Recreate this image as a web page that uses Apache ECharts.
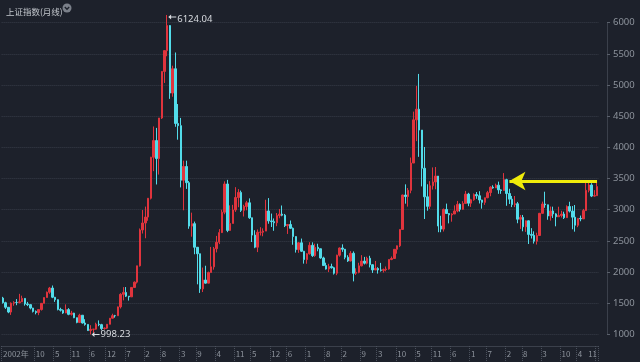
<!DOCTYPE html>
<html>
<head>
<meta charset="utf-8">
<script src="https://cdn.jsdelivr.net/npm/echarts@6/dist/echarts.min.js"></script>
<style>
html,body{margin:0;padding:0;background:#1d212b;}
#main{width:640px;height:362px;}
</style>
</head>
<body>
<div id="main"></div>
<script>
// Monthly candles, 2002-10 .. 2020-11
const startYear = 2002, startMonth = 10;
const closes = [
1507,1434,1357,
1499,1511,1510,1521,1576,1487,1476,1421,1367,1349,1397,1497,
1590,1675,1742,1595,1555,1399,1386,1342,1396,1320,1340,1266,
1191,1306,1181,1159,1060,1080,1083,1162,1155,1092,1099,1161,
1258,1299,1298,1440,1641,1672,1612,1601,1752,1837,2099,2675,
2786,2881,3183,3841,4109,3820,4471,5218,5552,5954,4871,5261,
4383,4348,3472,3693,3433,2736,2775,2397,2293,1729,1871,1821,
1991,2082,2373,2477,2632,2959,3412,2667,2779,2996,3195,3277,
2989,3051,3110,2870,2592,2398,2638,2638,2656,2979,2820,2808,
2790,2905,2928,2911,2743,2762,2701,2568,2359,2468,2333,2199,
2292,2428,2262,2396,2373,2225,2103,2047,2086,2068,1980,2269,
2385,2365,2236,2177,2300,1979,1994,2098,2175,2141,2220,2116,
2033,2056,2033,2026,2039,2048,2201,2217,2364,2420,2683,3235,
3210,3310,3748,4441,4612,4277,3664,3206,3053,3383,3445,3539,
2738,2688,3004,2938,2917,2930,2979,3085,3005,3100,3250,3104,
3159,3242,3223,3155,3117,3192,3273,3361,3349,3393,3317,3307,
3481,3259,3169,3082,3095,2847,2876,2725,2821,2603,2588,2494,
2585,2941,3091,3078,2899,2979,2932,2886,2905,2929,2872,3050,
2977,2880,2750,2860,2852,2985,3310,3396,3218,3225,3370
];
const opens = [
1581,1507,1434,
1357,1499,1511,1510,1521,1576,1487,1476,1421,1367,1349,1397,
1497,1590,1675,1742,1595,1555,1399,1386,1342,1396,1320,1340,
1266,1191,1306,1181,1159,1060,1080,1083,1162,1155,1092,1099,
1161,1258,1299,1298,1440,1641,1672,1612,1601,1752,1837,2099,
2675,2786,2881,3183,3841,4109,3820,4471,5218,5552,5954,4871,
5261,4383,4348,3472,3693,3433,2736,2775,2397,2293,1729,1871,
1821,1991,2082,2373,2477,2632,2959,3412,2667,2779,2996,3195,
3277,2989,3051,3110,2870,2592,2398,2638,2638,2656,2979,2820,
2808,2790,2905,2928,2911,2743,2762,2701,2568,2359,2468,2333,
2199,2292,2428,2262,2396,2373,2225,2103,2047,2086,2068,1980,
2269,2385,2365,2236,2177,2300,1979,1994,2098,2175,2141,2220,
2116,2033,2056,2033,2026,2039,2048,2201,2217,2364,2420,2683,
3235,3210,3310,3748,4441,4612,4277,3664,3206,3053,3383,3445,
3539,2738,2688,3004,2938,2917,2930,2979,3085,3005,3100,3250,
3104,3159,3242,3223,3155,3117,3192,3273,3361,3349,3393,3317,
3307,3481,3259,3169,3082,3095,2847,2876,2725,2821,2603,2588,
2494,2585,2941,3091,3078,2899,2979,2932,2886,2905,2929,2872,
3050,2977,2880,2750,2860,2852,2985,3310,3396,3218,3225
];
const highs = [
1601,1522,1437,
1512,1532,1565,1649,1620,1580,1520,1480,1425,1382,1402,1502,
1590,1686,1760,1783,1600,1560,1426,1400,1480,1420,1376,1345,
1268,1329,1308,1242,1160,1146,1085,1186,1223,1168,1110,1164,
1260,1330,1312,1445,1660,1757,1758,1612,1752,1848,2100,2698,
2994,3049,3184,3848,4335,4312,4471,5219,5552,6124.04,5914,5310,
5522,4695,4472,3786,3786,3459,2952,2809,2333,2293,2071,2100,
2006,2402,2402,2579,2688,3000,3454,3478,3069,3077,3361,3330,
3306,3079,3141,3181,2868,2670,2682,2719,2700,3159,3186,2937,
2859,2946,3011,3067,2931,2764,2826,2714,2550,2481,2536,2339,
2302,2478,2476,2454,2453,2372,2245,2149,2131,2133,2083,2277,
2393,2444,2359,2269,2335,2330,2059,2148,2270,2242,2245,2260,
2125,2177,2076,2146,2055,2088,2204,2248,2368,2425,2685,3240,
3406,3347,3836,4573,4986,5178,4184,4006,3407,3457,3678,3684,
3538,2902,3018,3097,2946,2942,3069,3140,3100,3136,3301,3270,
3174,3261,3283,3296,3159,3193,3301,3377,3391,3418,3450,3327,
3587,3495,3335,3220,3219,3124,2915,2915,2827,2827,2703,2652,
2630,2948,3129,3288,3041,3050,3048,2944,3047,2982,2967,3069,
3127,3058,3075,2860,2905,3012,3458,3436,3425,3313,3457
];
const lows = [
1493,1407,1339,
1311,1458,1467,1495,1518,1460,1452,1400,1350,1320,1307,1381,
1495,1590,1650,1580,1520,1384,1366,1328,1340,1306,1300,1259,
1177,1180,1173,1138,1054,998.23,1004,1075,1130,1067,1074,1086,
1161,1254,1267,1298,1414,1545,1598,1541,1600,1751,1815,2087,
2617,2541,2822,3164,3618,3404,3563,4456,5033,5462,4778,4812,
4330,4123,3357,2990,3333,2693,2566,2284,1802,1664,1678,1814,
1844,1991,2037,2314,2447,2640,2927,2639,2712,2779,2964,3039,
2963,2890,2990,2852,2481,2382,2319,2585,2573,2656,2774,2722,
2661,2735,2862,2894,2721,2610,2689,2437,2311,2307,2320,2134,
2132,2280,2242,2244,2332,2212,2098,2039,1999,2054,1959,1949,
2246,2323,2204,2161,2170,1849,1951,1979,2091,2121,2121,2073,
1984,2030,1974,2006,1991,2010,2038,2189,2210,2294,2399,2677,
3096,3049,3263,3747,4099,3848,3373,2850,2983,3012,3322,3327,
2638,2638,2649,2935,2780,2807,2935,2958,2969,3000,3097,3056,
3044,3143,3174,3099,3016,3077,3183,3215,3337,3354,3254,3254,
3308,3062,3091,3041,3041,2782,2691,2653,2644,2449,2537,2456,
2440,2591,2952,3030,2838,2824,2867,2733,2888,2874,2850,2870,
2955,2685,2647,2719,2814,2866,3018,3278,3202,3209,3224
];
// months where the x-axis shows a label
const labelMonths = ['2002-10','2003-10','2004-05','2004-11','2005-06','2005-12','2006-07','2007-02','2007-08','2008-03','2008-09','2009-04','2009-11','2010-05','2010-12','2011-06','2012-01','2012-08','2013-02','2013-09','2014-03','2014-10','2015-05','2015-11','2016-06','2017-01','2017-07','2018-02','2018-08','2019-03','2019-10','2020-04','2020-11'];
const yTicks = [1000,1500,2000,2500,3000,3500,4000,4500,5000,5500,6000];
const extremes = [
  {month:'2007-10', value:6124.04},
  {month:'2005-06', value:998.23}
];
const arrowFrom = {month:'2020-11', value:3460};
const arrowTo = {month:'2018-03', value:3460};

const categories = [];
for (let i = 0; i < closes.length; i++) {
  const m = startMonth - 1 + i;
  const y = startYear + Math.floor(m / 12);
  const mm = (m % 12) + 1;
  categories.push(y + '-' + (mm < 10 ? '0' + mm : mm));
}
const ohlc = closes.map((c, i) => [opens[i], c, lows[i], highs[i]]);
const labelSet = new Set(labelMonths.map(m => categories.indexOf(m)));

const chart = echarts.init(document.getElementById('main'), null, {renderer:'canvas'});
const gridColor = '#383d48';
const txt = '#8d939c';
chart.setOption({
  animation:false,
  backgroundColor:'#1d212b',
  title:{text:'上证指数(月线)', left:1, top:3,
    textStyle:{fontSize:8.5, color:'#c5c9cf', fontWeight:'normal', fontFamily:'"Noto Sans CJK SC", sans-serif'}},
  graphic:[
    {type:'circle', shape:{cx:67, cy:8, r:4.5}, style:{fill:'#7b808a'}},
    {type:'polyline', shape:{points:[[64.8,7],[67,9.3],[69.2,7]]}, style:{stroke:'#1d212b', lineWidth:1.3, fill:null}}
  ],
  grid:{left:0, right:41.6, top:22.7, bottom:27.7},
  xAxis:{
    type:'category', data:categories, boundaryGap:true, offset:11.7,
    axisLine:{lineStyle:{color:'#3b404b'}},
    axisTick:{show:true, length:16, interval:(i)=>labelSet.has(i), lineStyle:{color:'#4a505c', type:'dotted'}},
    axisLabel:{interval:(i)=>labelSet.has(i), align:'left', margin:4, fontSize:8, color:txt,
      fontFamily:'"Noto Sans CJK SC", "Noto Sans", sans-serif', alignMaxLabel:'right',
      formatter:(v, i)=> i === 0 ? v.slice(0,4) + '年' : String(parseInt(v.slice(5), 10))},
    splitLine:{show:false}
  },
  yAxis:{
    type:'value', position:'right', min:yTicks[0], max:yTicks[yTicks.length-1], interval:500, offset:8.6,
    axisLine:{show:true, lineStyle:{color:'#3b404b'}},
    axisTick:{show:true, length:3, lineStyle:{color:'#5a606b'}},
    axisLabel:{margin:6, fontSize:9.5, color:txt, fontFamily:'"Noto Sans", sans-serif', formatter:(v)=>String(v)},
    splitLine:{show:true, lineStyle:{color:gridColor, type:'dotted'}}
  },
  series:[{
    type:'candlestick', data:ohlc, clip:false, barWidth:'72%',
    itemStyle:{color:'#e0343d', color0:'#52dcea', borderColor:'#e0343d', borderColor0:'#52dcea', borderWidth:1},
    markLine:{
      silent:true, symbol:['none','arrow'], symbolSize:[14,16],
      lineStyle:{color:'#f0ec0a', width:3, type:'solid'},
      label:{show:false},
      data:[[{coord:[arrowFrom.month, arrowFrom.value]}, {coord:[arrowTo.month, arrowTo.value]}]]
    }
  },{
    type:'scatter', clip:false, z:5,
    data:extremes.map((e, i) => ({value:[e.month, e.value], symbolOffset: i === 0 ? [5,2] : [5,0],
      label: i === 0 ? {offset:[0,2]} : {}})),
    symbol:'path://M0,5L5,0L5,4L14,4L14,6L5,6L5,10Z', symbolSize:[8,5],
    itemStyle:{color:'#d8dbe0', opacity:1},
    label:{show:true, position:'right', distance:1, fontSize:9.5, color:'#d8dbe0', fontFamily:'"Noto Sans", sans-serif',
      formatter:(p)=>p.value[1].toFixed(2)}
  }]
});
</script>
</body>
</html>
